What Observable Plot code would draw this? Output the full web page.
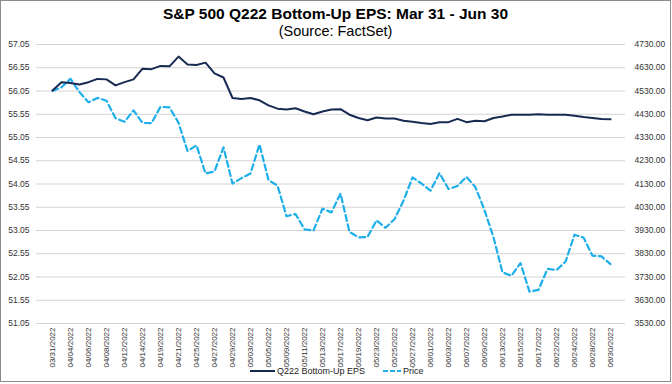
<!DOCTYPE html>
<html>
<head>
<meta charset="utf-8">
<script src="https://cdn.jsdelivr.net/npm/d3@7"></script>
<script src="https://cdn.jsdelivr.net/npm/@observablehq/plot@0.6"></script>
<style>
  html, body { margin: 0; padding: 0; background: #fff; }
  #wrap { position: relative; width: 672px; height: 384px; font-family: "Liberation Sans", Arial, sans-serif; overflow: hidden; }
  #border { position: absolute; left: 0; top: 0; width: 669px; height: 380px; border: 1px solid #8c8c8c; pointer-events: none; }
  #title { position: absolute; left: 0; width: 671px; top: 5px; text-align: center; font-weight: bold; font-size: 15.5px; color: #000; line-height: 17px; }
  #subtitle { position: absolute; left: 0; width: 671px; top: 23px; text-align: center; font-size: 14.5px; color: #000; line-height: 16px; }
  #legend { position: absolute; top: 366px; left: 250px; font-size: 9px; color: #222; display: flex; align-items: center; }
  #legend svg { display: block; }
  #chart { position: absolute; left: 0; top: 0; }
</style>
</head>
<body>
<div id="wrap">
  <div id="chart"></div>
  <div id="title">S&amp;P 500 Q222 Bottom-Up EPS: Mar 31 - Jun 30</div>
  <div id="subtitle">(Source: FactSet)</div>
  <div id="legend"></div>
  <div id="border"></div>
</div>
<script>
const dates = ["03/31/2022","04/01/2022","04/04/2022","04/05/2022","04/06/2022","04/07/2022","04/08/2022",
  "04/11/2022","04/12/2022","04/13/2022","04/14/2022","04/18/2022","04/19/2022","04/20/2022","04/21/2022","04/22/2022",
  "04/25/2022","04/26/2022","04/27/2022","04/28/2022","04/29/2022","05/02/2022","05/03/2022","05/04/2022","05/05/2022","05/06/2022",
  "05/09/2022","05/10/2022","05/11/2022","05/12/2022","05/13/2022","05/16/2022","05/17/2022","05/18/2022","05/19/2022","05/20/2022",
  "05/23/2022","05/24/2022","05/25/2022","05/26/2022","05/27/2022","05/31/2022","06/01/2022","06/02/2022","06/03/2022",
  "06/06/2022","06/07/2022","06/08/2022","06/09/2022","06/10/2022","06/13/2022","06/14/2022","06/15/2022","06/16/2022","06/17/2022",
  "06/21/2022","06/22/2022","06/23/2022","06/24/2022","06/27/2022","06/28/2022","06/29/2022","06/30/2022"];

const eps = [56.06,56.24,56.22,56.19,56.24,56.31,56.30,56.17,56.24,56.30,
  56.53,56.52,56.59,56.58,56.79,56.62,56.61,56.66,56.43,56.34,
  55.90,55.88,55.90,55.85,55.74,55.67,55.65,55.68,55.61,55.55,
  55.61,55.65,55.66,55.54,55.47,55.42,55.48,55.46,55.46,55.41,
  55.39,55.36,55.34,55.38,55.38,55.45,55.38,55.41,55.40,55.47,
  55.50,55.54,55.54,55.54,55.55,55.54,55.54,55.54,55.52,55.49,
  55.47,55.45,55.44];

const price = [4530.41,4545.86,4582.64,4525.12,4481.15,4500.21,4488.28,
  4412.53,4397.45,4446.59,4392.59,4391.69,4462.21,4459.45,4393.66,4271.78,
  4296.12,4175.20,4183.96,4287.50,4131.93,4155.38,4175.48,4300.17,4146.87,4123.34,
  3991.24,4001.05,3935.18,3930.08,4023.89,4008.01,4088.85,3923.68,3900.79,3901.36,
  3973.75,3941.48,3978.73,4057.84,4158.24,4132.15,4101.23,4176.82,4108.54,
  4121.43,4160.68,4115.77,4017.82,3900.86,3749.63,3735.48,3789.99,3666.77,3674.84,
  3764.79,3759.89,3795.73,3911.74,3900.11,3821.55,3818.83,3785.38];

const epsTicks = [51.05,51.55,52.05,52.55,53.05,53.55,54.05,54.55,55.05,55.55,56.05,56.55,57.05];
const priceTicks = [3530,3630,3730,3830,3930,4030,4130,4230,4330,4430,4530,4630,4730];
const xTickLabels = dates.filter((d, i) => i % 2 === 0);

const epsColor = "#172a52";
const priceColor = "#1eaeea";

// map price onto the EPS (left) scale for the dual axis
const pMin = priceTicks[0], pMax = priceTicks[priceTicks.length - 1];
const eMin = epsTicks[0], eMax = epsTicks[epsTicks.length - 1];
const toLeft = p => eMin + (p - pMin) / (pMax - pMin) * (eMax - eMin);

const rows = dates.map((d, i) => ({date: d, eps: eps[i], price: price[i], priceY: toLeft(price[i])}));
const rightLabel = new Map(epsTicks.map((t, i) => [t, priceTicks[i].toFixed(2)]));

const chart = Plot.plot({
  width: 672,
  height: 384,
  marginLeft: 36,
  marginRight: 47,
  marginTop: 44,
  marginBottom: 61,
  style: {fontFamily: '"Liberation Sans", Arial, sans-serif', background: "transparent"},
  x: {type: "point", domain: dates, padding: 0.43},
  y: {domain: [eMin, eMax]},
  marks: [
    Plot.ruleY(epsTicks, {stroke: "#d3d3d3", strokeWidth: 1.2}),
    Plot.axisY({anchor: "left", ticks: epsTicks, tickSize: 0, tickPadding: 7, tickFormat: d => d.toFixed(2), fontSize: 8.5, fill: "#333", label: null}),
    Plot.axisY({anchor: "right", ticks: epsTicks, tickSize: 0, tickPadding: 9, tickFormat: d => rightLabel.get(d), fontSize: 8.5, fill: "#333", label: null}),
    Plot.axisX({ticks: xTickLabels, tickRotate: -90, tickSize: 0, tickPadding: 4, fontSize: 8, fill: "#333", label: null}),
    Plot.lineY(rows, {x: "date", y: "priceY", stroke: priceColor, strokeWidth: 2.2, strokeDasharray: "6,3.5"}),
    Plot.lineY(rows, {x: "date", y: "eps", stroke: epsColor, strokeWidth: 2})
  ]
});
document.getElementById("chart").appendChild(chart);

// legend
const legend = document.getElementById("legend");
function item(color, dash, text, gap) {
  const ns = "http://www.w3.org/2000/svg";
  const svg = document.createElementNS(ns, "svg");
  const w = dash ? 18 : 25;
  svg.setAttribute("width", w + 2);
  svg.setAttribute("height", 10);
  const ln = document.createElementNS(ns, "line");
  ln.setAttribute("x1", 0); ln.setAttribute("x2", w);
  ln.setAttribute("y1", 5); ln.setAttribute("y2", 5);
  ln.setAttribute("stroke", color); ln.setAttribute("stroke-width", 2);
  if (dash) ln.setAttribute("stroke-dasharray", "5,2");
  svg.appendChild(ln);
  const span = document.createElement("span");
  span.textContent = text;
  span.style.marginRight = gap + "px";
  legend.appendChild(svg);
  legend.appendChild(span);
}
item(epsColor, false, "Q222 Bottom-Up EPS", 18);
item(priceColor, true, "Price", 0);
</script>
</body>
</html>
